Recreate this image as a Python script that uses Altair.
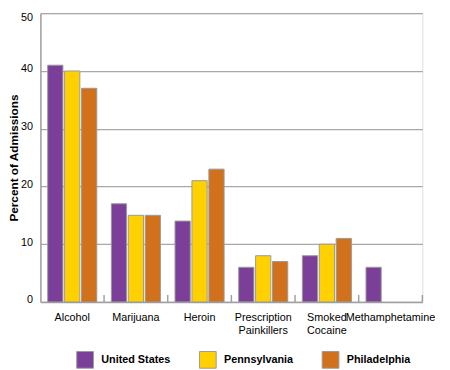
import altair as alt
import pandas as pd

categories = ["Alcohol", "Marijuana", "Heroin", "Prescription Painkillers", "Smoked Cocaine", "Methamphetamine"]
series = ["United States", "Pennsylvania", "Philadelphia"]
us = [41, 17, 14, 6, 8, 6]
pa = [40, 15, 21, 8, 10, None]
phl = [37, 15, 23, 7, 11, None]
colors = ["#7B3F9A", "#FFD100", "#D2711C"]

rows = []
for i, c in enumerate(categories):
    for s, vals in zip(series, [us, pa, phl]):
        if vals[i] is not None:
            rows.append({"cat": c, "series": s, "value": vals[i]})
df = pd.DataFrame(rows)
ticks_df = pd.DataFrame({"cat": categories})

label_expr = ("datum.value == 'Prescription Painkillers' ? ['Prescription', 'Painkillers'] : "
              "datum.value == 'Smoked Cocaine' ? ['Smoked', 'Cocaine'] : datum.value")

bars = alt.Chart(df).mark_bar(stroke="#9a9a9a", strokeWidth=1).encode(
    x=alt.X("cat:N", sort=categories,
            scale=alt.Scale(paddingInner=0.229, paddingOuter=0.1145),
            axis=alt.Axis(title=None, labelAngle=0, labelExpr=label_expr, ticks=False,
                          domainColor="#a0a0a0", domainWidth=1.5, labelPadding=10,
                          labelFont="Liberation Sans", labelFontSize=11, labelColor="#000",
                          labelLineHeight=13, labelBaseline="top")),
    xOffset=alt.XOffset("series:N", sort=series, scale=alt.Scale(paddingInner=0.1)),
    y=alt.Y("value:Q", scale=alt.Scale(domain=[0, 50], nice=False),
            axis=alt.Axis(values=[0, 10, 20, 30, 40, 50], title="Percent of Admissions",
                          grid=True, gridColor="#a8a8a8", gridWidth=1.3, ticks=False,
                          domainColor="#a0a0a0", domainWidth=1.5,
                          labelFont="Liberation Sans", labelFontSize=11, labelColor="#000",
                          labelPadding=8,
                          labelBaseline={"condition": {"test": "datum.value == 50", "value": "top"}, "value": "alphabetic"},
                          labelOffset={"condition": {"test": "datum.value == 50", "value": -2}, "value": 1},
                          titleFont="Liberation Sans", titleFontSize=12, titleFontWeight="bold",
                          titleColor="#000", titleX=-23, titleY=147, titleAngle=270,
                          titleBaseline="alphabetic", titleAlign="center")),
    color=alt.Color("series:N", sort=series, scale=alt.Scale(domain=series, range=colors),
                    legend=alt.Legend(title=None, orient="none", direction="horizontal",
                                      legendX=36, legendY=343, symbolType="square",
                                      symbolSize=290, symbolStrokeColor="#9a9a9a",
                                      symbolStrokeWidth=1, symbolOpacity=1,
                                      labelFont="Liberation Sans", labelFontSize=11,
                                      labelFontWeight="bold", labelColor="#000",
                                      labelOffset=7, columnPadding=26, padding=0)),
)

tick_marks = alt.Chart(ticks_df).mark_rule(color="#a0a0a0", strokeWidth=1.5).encode(
    x=alt.X("cat:N", sort=categories, bandPosition=1,
            scale=alt.Scale(paddingInner=0, paddingOuter=0), axis=None),
    y=alt.datum(0),
    y2=alt.datum(1.2),
)

chart = alt.layer(bars, tick_marks).resolve_scale(x="independent").properties(
    width=389, height=294,
    autosize=alt.AutoSizeParams(type="none"),
    padding={"left": 33, "top": 2, "right": 20, "bottom": 66},
).configure_view(stroke=None).configure(background="white")

chart.save("out.html", embed_options={"renderer": "svg", "actions": False})
